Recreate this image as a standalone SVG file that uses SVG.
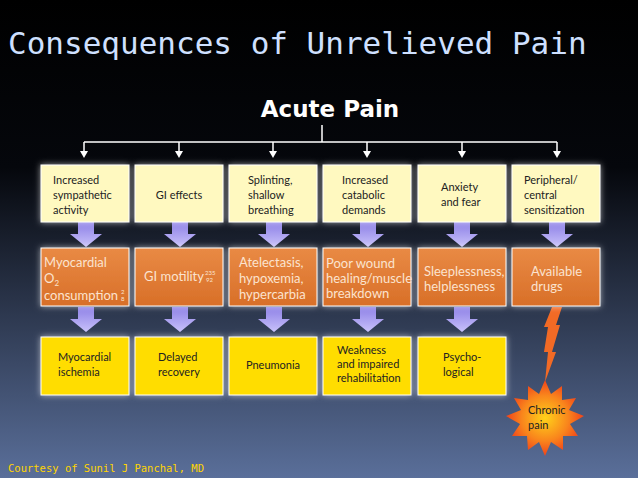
<svg xmlns="http://www.w3.org/2000/svg" width="638" height="478" viewBox="0 0 638 478">
<defs>
<linearGradient id="bg" x1="0" y1="0" x2="0" y2="1"><stop offset="0" stop-color="#000"/><stop offset="0.35" stop-color="#05070c"/><stop offset="1" stop-color="#5a6f9a"/></linearGradient>
<linearGradient id="or" x1="0" y1="0" x2="0" y2="1"><stop offset="0" stop-color="#e98a45"/><stop offset="1" stop-color="#d86f28"/></linearGradient>
<linearGradient id="ar" x1="0" y1="0" x2="0" y2="1"><stop offset="0" stop-color="#8c7fe6"/><stop offset="1" stop-color="#c9c2fa"/></linearGradient>
<radialGradient id="st"><stop offset="0" stop-color="#ffd21a"/><stop offset="0.6" stop-color="#f9851c"/><stop offset="1" stop-color="#f0421a"/></radialGradient>
<filter id="gl" x="-10%" y="-15%" width="120%" height="130%"><feGaussianBlur in="SourceAlpha" stdDeviation="3" result="b"/><feFlood flood-color="#fff" flood-opacity="0.6"/><feComposite operator="in" in2="b"/><feMerge><feMergeNode/><feMergeNode in="SourceGraphic"/></feMerge></filter>
<path id="arr" d="M-8,0 h16 v12 h8 l-16,13 l-16,-13 h8 z"/>
<path id="sa" d="M-4,0 l4,7 l4,-7 z"/>
</defs>
<style>
.t{font-family:"Lato","Liberation Sans",sans-serif;font-size:11px;fill:#222}
.o{font-family:"Lato","Liberation Sans",sans-serif;font-size:13px;fill:#fbe3cf}
.s{font-family:"Lato","Liberation Sans",sans-serif;font-size:6px;fill:#fbe3cf}
.y1{fill:#fff9c0;stroke:#fff;stroke-width:1;filter:url(#gl)}
.y3{fill:#ffdd00;stroke:#fff;stroke-width:1;filter:url(#gl)}
.or{fill:url(#or);stroke:#fff;stroke-width:1;filter:url(#gl)}
</style>
<rect width="638" height="478" fill="url(#bg)"/>
<text x="8" y="54" font-family="DejaVu Sans Mono,monospace" font-size="31" fill="#cfe0ff">Consequences of Unrelieved Pain</text>
<text x="330" y="117" text-anchor="middle" font-family="DejaVu Sans,sans-serif" font-weight="bold" font-size="23" fill="#fff">Acute Pain</text>
<g id="connectors" fill="#fff" stroke="#fff" stroke-width="1.5">
<path d="M322,125 V142 M84,142 H557 M84,142 V152 M179,142 V152 M273,142 V152 M367,142 V152 M462,142 V152 M557,142 V152" fill="none"/>
<g stroke="none"><use href="#sa" x="84" y="151"/><use href="#sa" x="179" y="151"/><use href="#sa" x="273" y="151"/><use href="#sa" x="367" y="151"/><use href="#sa" x="462" y="151"/><use href="#sa" x="557" y="151"/></g>
<g fill="url(#ar)" stroke="none">
<use href="#arr" x="86" y="222"/><use href="#arr" x="180" y="222"/><use href="#arr" x="274" y="222"/><use href="#arr" x="368" y="222"/><use href="#arr" x="462" y="222"/><use href="#arr" x="557" y="222"/>
<use href="#arr" x="86" y="307"/><use href="#arr" x="180" y="307"/><use href="#arr" x="274" y="307"/><use href="#arr" x="368" y="307"/><use href="#arr" x="462" y="307"/>
</g>
<path d="M552,307 L562,307 L556,325 L560,325 L552,352 L556,352 L545,382 L548,352 L544,352 L548,327 L544,327 Z" fill="#f26a25" stroke="none"/>
</g>
<g id="r1c1"><rect class="y1" x="41" y="165" width="88" height="57"/><text class="t" x="53" y="184">Increased</text><text class="t" x="53" y="199">sympathetic</text><text class="t" x="53" y="214">activity</text></g>
<g id="r1c2"><rect class="y1" x="135" y="165" width="88" height="57"/><text class="t" x="179" y="199" text-anchor="middle">GI effects</text></g>
<g id="r1c3"><rect class="y1" x="229" y="165" width="88" height="57"/><text class="t" x="248" y="184">Splinting,</text><text class="t" x="248" y="199">shallow</text><text class="t" x="248" y="214">breathing</text></g>
<g id="r1c4"><rect class="y1" x="323" y="165" width="88" height="57"/><text class="t" x="342" y="184">Increased</text><text class="t" x="342" y="199">catabolic</text><text class="t" x="342" y="214">demands</text></g>
<g id="r1c5"><rect class="y1" x="418" y="165" width="88" height="57"/><text class="t" x="441" y="191">Anxiety</text><text class="t" x="441" y="206">and fear</text></g>
<g id="r1c6"><rect class="y1" x="512" y="165" width="88" height="57"/><text class="t" x="524" y="184">Peripheral/</text><text class="t" x="524" y="199">central</text><text class="t" x="524" y="214">sensitization</text></g>

<g id="r2c1"><rect class="or" x="41" y="248" width="88" height="58"/><text class="o" x="44" y="267">Myocardial</text><text class="o" x="44" y="283">O<tspan font-size="8" dy="3">2</tspan></text><text class="o" x="44" y="300" font-size="12.5">consumption</text><text class="s" x="121" y="294">2</text><text class="s" x="121" y="301">8</text></g>
<g id="r2c2"><rect class="or" x="135" y="248" width="88" height="58"/><text class="o" x="144" y="281">GI motility</text><text class="s" x="205" y="275">235</text><text class="s" x="206" y="282">92</text></g>
<g id="r2c3"><rect class="or" x="229" y="248" width="88" height="58"/><text class="o" x="239" y="267">Atelectasis,</text><text class="o" x="239" y="283">hypoxemia,</text><text class="o" x="239" y="299">hypercarbia</text></g>
<g id="r2c4"><rect class="or" x="323" y="248" width="88" height="58"/><text class="o" x="326" y="268" font-size="11">Poor wound</text><text class="o" x="326" y="283" font-size="11">healing/muscle</text><text class="o" x="326" y="298" font-size="11">breakdown</text></g>
<g id="r2c5"><rect class="or" x="418" y="248" width="88" height="58"/><text class="o" x="424" y="276" font-size="11.5">Sleeplessness,</text><text class="o" x="424" y="291" font-size="11.5">helplessness</text></g>
<g id="r2c6"><rect class="or" x="512" y="248" width="88" height="58"/><text class="o" x="531" y="276">Available</text><text class="o" x="531" y="291">drugs</text></g>

<g id="r3c1"><rect class="y3" x="41" y="337" width="88" height="58"/><text class="t" x="58" y="361">Myocardial</text><text class="t" x="58" y="376">ischemia</text></g>
<g id="r3c2"><rect class="y3" x="135" y="337" width="88" height="58"/><text class="t" x="158" y="361">Delayed</text><text class="t" x="158" y="376">recovery</text></g>
<g id="r3c3"><rect class="y3" x="229" y="337" width="88" height="58"/><text class="t" x="273" y="369" text-anchor="middle">Pneumonia</text></g>
<g id="r3c4"><rect class="y3" x="323" y="337" width="88" height="58"/><text class="t" x="337" y="354" font-size="10">Weakness</text><text class="t" x="337" y="368" font-size="10">and impaired</text><text class="t" x="337" y="382" font-size="10">rehabilitation</text></g>
<g id="r3c5"><rect class="y3" x="418" y="337" width="88" height="58"/><text class="t" x="443" y="361">Psycho-</text><text class="t" x="443" y="376">logical</text></g>
<g id="chronic">
<polygon fill="url(#st)" points="545,380 551,394 562,386 562,400 576,398 569,410 584,416 570,424 578,436 563,436 563,450 551,442 545,456 539,442 528,450 527,436 512,436 520,424 506,416 521,410 514,398 528,400 528,386 539,394"/>
<text class="t" x="528" y="414">Chronic</text><text class="t" x="528" y="429">pain</text>
</g>
<text x="8" y="472" font-family="DejaVu Sans Mono,monospace" font-size="10.5" fill="#ffd400">Courtesy of Sunil J Panchal, MD</text>
</svg>
